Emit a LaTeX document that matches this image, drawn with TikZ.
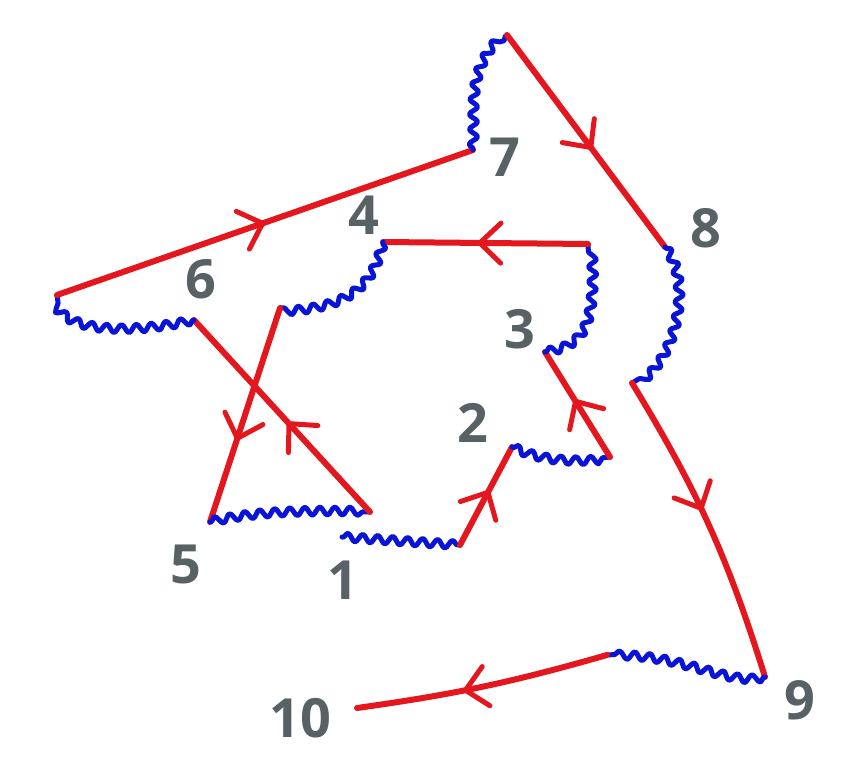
\documentclass[tikz,border=0pt]{standalone}
\usepackage{fontspec}
\setmainfont{Open Sans}
\usetikzlibrary{decorations.pathmorphing,decorations.markings,arrows.meta}
\definecolor{myred}{RGB}{228,22,30}
\definecolor{myblue}{RGB}{10,20,215}
\definecolor{labelgray}{RGB}{88,98,100}
\tikzset{
  redline/.style={draw=myred, line width=6pt, line cap=round},
  redarrow/.style={redline, decoration={markings, mark=at position #1 with {\arrow{Straight Barb[length=21pt,width=40pt,line width=5pt,round]}}}, postaction={decorate}},
  bluewave/.style={draw=myblue, line width=5pt, line cap=round, line join=round, decorate, decoration={snake, amplitude=4pt, segment length=15pt, pre length=1pt, post length=1pt}},
  lbl/.style={inner sep=0pt, text=labelgray, font=\fontsize{54}{54}\selectfont\bfseries}
}
\begin{document}
\begin{tikzpicture}[x=1pt,y=-1pt]
\useasboundingbox (0,0) rectangle (863,783);
% points
\coordinate (M) at (342,537);
\coordinate (L) at (460,545);
\coordinate (K) at (512,447);
\coordinate (J) at (610,457);
\coordinate (I) at (545,352);
\coordinate (H) at (588,244);
\coordinate (G) at (383,242);
\coordinate (F) at (280,308);
\coordinate (P5) at (210,522);
\coordinate (E) at (370,512);
\coordinate (P6) at (194,320);
\coordinate (D) at (57,295);
\coordinate (P7) at (473,150);
\coordinate (C) at (507,35);
\coordinate (P8) at (665,247);
\coordinate (B) at (632,383);
\coordinate (P9) at (765,677);
\coordinate (A) at (607,655);
\coordinate (P10) at (357,708);
% path segments
\draw[bluewave] (M) -- (L);
\draw[redarrow=0.56] (L) -- (K);
\draw[bluewave] (K) .. controls (545,462) and (580,460) .. (J);
\draw[redarrow=0.55] (J) -- (I);
\draw[bluewave] (I) .. controls (585,345) and (592,320) .. (H);
\draw[redarrow=0.54] (H) -- (G);
\draw[bluewave] (G) .. controls (372,290) and (340,305) .. (F);
\draw[redarrow=0.62] (F) -- (P5);
\draw[bluewave] (P5) .. controls (260,510) and (320,512) .. (E);
\draw[redarrow=0.47] (E) -- (P6);
\draw[bluewave] (P6) .. controls (140,332) and (60,335) .. (D);
\draw[redarrow=0.5] (D) -- (P7);
\draw[bluewave] (P7) .. controls (475,110) and (465,70) .. (C);
\draw[redarrow=0.54] (C) -- (P8);
\draw[bluewave] (P8) .. controls (690,280) and (675,360) .. (B);
\draw[redarrow=0.45] (B) to[bend left=7] (P9);
\draw[bluewave] (P9) .. controls (730,685) and (680,650) .. (A);
\draw[redarrow=0.58] (A) to[bend left=4] (P10);
% labels
\node[lbl] (n1) at (343,580) {1};
\node[lbl] (n2) at (473,423) {2};
\node[lbl] (n3) at (520,329) {3};
\node[lbl] (n4) at (364,215) {4};
\node[lbl] (n5) at (186,564) {5};
\node[lbl] (n6) at (201,279) {6};
\node[lbl] (n7) at (505,157) {7};
\node[lbl] (n8) at (706,228) {8};
\node[lbl] (n9) at (800,700) {9};
\node[lbl] (n10) at (300,718) {10};
\end{tikzpicture}
\end{document}
